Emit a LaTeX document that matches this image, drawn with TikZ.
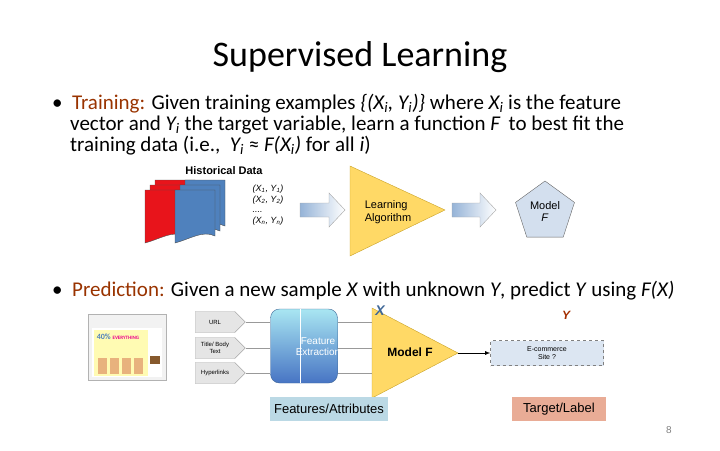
\documentclass[tikz,border=0pt]{standalone}
\usepackage{fontspec}
\setmainfont{Carlito}
\newfontfamily\arialf{Liberation Sans}
\usetikzlibrary{shapes.geometric,shapes.arrows,shapes.symbols}
\definecolor{brn}{HTML}{993300}
\definecolor{docred}{HTML}{E8141B}
\definecolor{docblue}{HTML}{4F81BD}
\definecolor{ylw}{HTML}{FFD966}
\definecolor{ylwd}{HTML}{C9A227}
\newcommand{\sbs}[1]{\textsubscript{\textit{#1}}}
\tikzset{
  tag/.style={signal, signal to=east, draw=gray!70, fill=gray!20, minimum width=50pt, minimum height=21pt, inner sep=1pt, font=\fontsize{6}{7}\selectfont\arialf, align=center},
  blockarr/.style={draw=gray!70, left color=docblue!60, right color=white},
  txt/.style={font=\fontsize{21}{22}\selectfont, anchor=west, inner sep=0pt},
  lbl/.style={inner sep=0pt, font=\fontsize{13}{15}\selectfont\arialf},
  tri/.style={draw=ylwd, fill=ylw},
  doc/.style={draw=black!70}
}
\begin{document}
\begin{tikzpicture}[x=1pt,y=-1pt]
\useasboundingbox (0,0) rectangle (720,450);
\node (title) at (360,57) {\fontsize{36}{40}\selectfont Supervised Learning};
% bullet 1
\node[txt] (b1) at (52,104) {\textbullet\ \ \textcolor{brn}{Training:} Given training examples \textit{\{(X\sbs{i}, Y\sbs{i})\}} where \textit{X\sbs{i}} is the feature};
\node[txt] (b1b) at (70,125) {vector and \textit{Y\sbs{i}} the target variable, learn a function \textit{F}\, to best fit the};
\node[txt] (b1c) at (70,146) {training data (i.e., \ \textit{Y\sbs{i}} ≈ \textit{F(X\sbs{i})} for all \textit{i})};
\node[font=\fontsize{11}{12}\selectfont\bfseries\arialf] (hist) at (224,171) {Historical Data};
% documents
\foreach \dx in {10,5,0}{
  \draw[doc, fill=docred] (145+\dx,190-\dx) -- ++(40,0) -- ++(0,46) .. controls ++(-12,-6) and ++(15,-4) .. ++(-40,7) -- cycle;}
\foreach \dx in {10,5,0}{
  \draw[doc, fill=docblue] (175+\dx,190-\dx) -- ++(40,0) -- ++(0,46) .. controls ++(-12,-6) and ++(15,-4) .. ++(-40,7) -- cycle;}
\node[font=\fontsize{9}{10.5}\selectfont\itshape\arialf, align=left] (pairs) at (268,205) {(X\sbs{1}, Y\sbs{1})\\(X\sbs{2}, Y\sbs{2})\\....\\(X\sbs{n}, Y\sbs{n})};
\draw[blockarr] (300,203) -- (329,203) -- (329,193) -- (345,210) -- (329,227) -- (329,217) -- (300,217) -- cycle;
\coordinate (la1) at (350,166); \coordinate (la2) at (350,256); \coordinate (la3) at (445,210);
\draw[tri] (la1) -- (la3) -- (la2) -- cycle;
\node[font=\fontsize{11}{13}\selectfont\arialf, align=left] (lat) at (388,212) {Learning\\Algorithm};
\draw[blockarr] (452,203) -- (480,203) -- (480,193) -- (496,210) -- (480,227) -- (480,217) -- (452,217) -- cycle;
\node[regular polygon, regular polygon sides=5, draw=gray!80!black, fill=docblue!25, minimum size=62pt, inner sep=0pt, align=center, font=\fontsize{11}{12}\selectfont\arialf] (model) at (545,212) {Model\\\textit{F}};
% bullet 2
\node[txt] (b2) at (52,291) {\textbullet\ \ \textcolor{brn}{Prediction:} Given a new sample \textit{X} with unknown \textit{Y}, predict \textit{Y} using \textit{F(X)}};
% screenshot
\node[draw=gray!60, fill=gray!10, minimum width=78pt, minimum height=66pt, inner sep=0pt] (shot) at (127,347) {};
\fill[white] (92,328) rectangle (162,377);
\fill[yellow!30] (94,330) rectangle (148,376);
\node[font=\fontsize{8}{8}\selectfont\bfseries, text=docblue] at (118,337) {40\% \textcolor{magenta}{\tiny EVERYTHING}};
\foreach \xx in {98,110,122,134}{\fill[orange!40!brown!60] (\xx,358) rectangle ++(9,16);}
\fill[brown!70!black] (150,356) rectangle (160,364);
% tags
\node[tag] (url) at (215,322) {URL};
\node[tag] (ttl) at (215,348) {Title/ Body\\Text};
\node[tag] (hyp) at (215,373) {Hyperlinks};
\node[draw=docblue!80!black, rounded corners=9pt, minimum width=67pt, minimum height=74pt, top color=docblue!50!cyan!40, bottom color=docblue!90!blue] (fe) at (304,346) {};
\coordinate (m1) at (372,308); \coordinate (m2) at (372,398); \coordinate (mfa) at (458,353);
\foreach \yy/\t in {322/url,348/ttl,373/hyp}{
  \draw[gray!80] (\t.east) -- (fe.west |- 0,\yy);
  \draw[gray!80] (fe.east |- 0,\yy) -- (372,\yy);}
\draw[tri] (m1) -- (mfa) -- (m2) -- cycle;
\draw[white, thick] (300,309) -- (300,383);
\node[text=white, font=\fontsize{10}{11}\selectfont\arialf, align=center] (fet) at (318,347) {Feature\\Extraction};
\node[font=\fontsize{12}{13}\selectfont\bfseries\arialf] (mft) at (410,352) {Model F};
\node[draw=gray, dashed, fill=docblue!20, minimum width=113pt, minimum height=25pt, font=\fontsize{7}{8.5}\selectfont\arialf, align=center] (ec) at (547,353) {E-commerce\\Site ?};
\draw[-latex, thick] (mfa) -- (ec.west);
\node[text=docblue!80!black, font=\fontsize{14}{14}\selectfont\bfseries\itshape\arialf] (X) at (380,311) {X};
\node[text=brn!90!red, font=\fontsize{12}{12}\selectfont\bfseries\itshape\arialf] (Y) at (566,315) {Y};
\node[fill=cyan!30!teal!30, minimum width=118pt, minimum height=24pt, lbl] (fa) at (329,409) {Features/Attributes};
\node[fill=red!30!brown!50, minimum width=94pt, minimum height=24pt, lbl] (tl) at (559,409) {Target/Label};
\node[text=gray, font=\fontsize{10}{10}\selectfont\arialf] (pg) at (669,430) {8};
\end{tikzpicture}
\end{document}
